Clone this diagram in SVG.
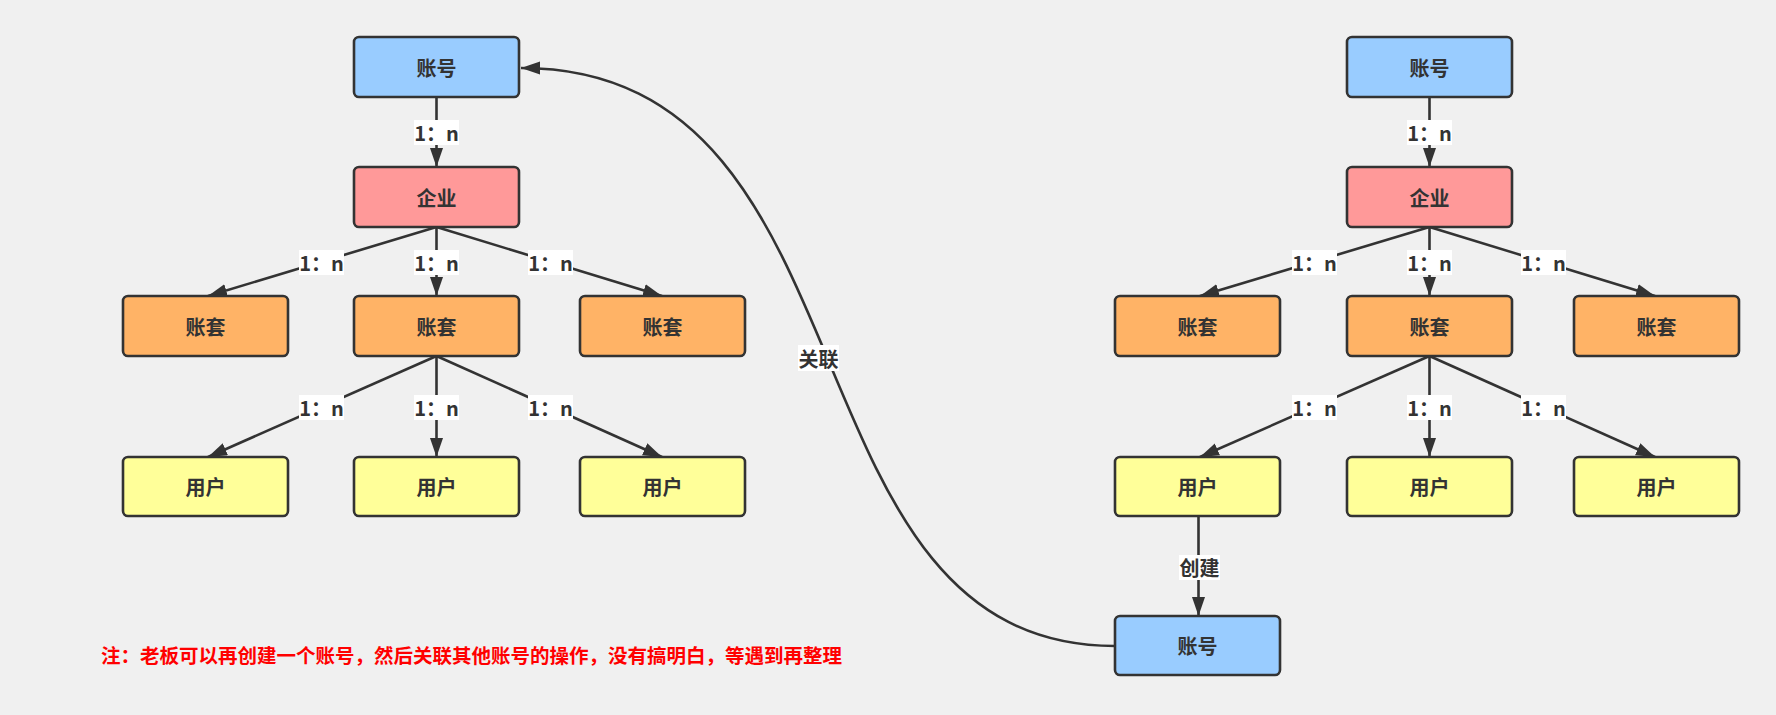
<svg xmlns="http://www.w3.org/2000/svg" width="1776" height="715" viewBox="0 0 1776 715">
<defs>
<style>
.node rect{stroke:#333;stroke-width:2.6}
.node text,.lbl text{font-family:"Noto Sans CJK SC","Liberation Sans",sans-serif;font-weight:bold;font-size:20px;fill:#333;text-anchor:middle;dominant-baseline:central}
.acct rect{fill:#99ccff}
.ent rect{fill:#ff9999}
.set rect{fill:#ffb366}
.user rect{fill:#ffff99}
.edge{fill:none;stroke:#333;stroke-width:2.6}
.lbl rect{fill:#ffffff}
.note{font-family:"Noto Sans CJK SC","Liberation Sans",sans-serif;font-weight:bold;font-size:19.5px;fill:#ff0000;dominant-baseline:central}
</style>
<marker id="arr" markerUnits="userSpaceOnUse" markerWidth="20" markerHeight="14" refX="19" refY="6.5" orient="auto">
<path d="M0,0 L19,6.5 L0,13 z" fill="#333"/>
</marker>
</defs>
<rect x="0" y="0" width="1776" height="715" fill="#f0f0f0"/>

<g id="connectors">
<path class="edge" d="M436.5,97 L436.5,167" marker-end="url(#arr)"/>
<path class="edge" d="M436.5,227 L208,296" marker-end="url(#arr)"/>
<path class="edge" d="M436.5,227 L436.5,296" marker-end="url(#arr)"/>
<path class="edge" d="M436.5,227 L662,296" marker-end="url(#arr)"/>
<path class="edge" d="M436.5,356 L208,457" marker-end="url(#arr)"/>
<path class="edge" d="M436.5,356 L436.5,457" marker-end="url(#arr)"/>
<path class="edge" d="M436.5,356 L662,457" marker-end="url(#arr)"/>

<path class="edge" d="M1429.5,97 L1429.5,167" marker-end="url(#arr)"/>
<path class="edge" d="M1429.5,227 L1200,296" marker-end="url(#arr)"/>
<path class="edge" d="M1429.5,227 L1429.5,296" marker-end="url(#arr)"/>
<path class="edge" d="M1429.5,227 L1655,296" marker-end="url(#arr)"/>
<path class="edge" d="M1429.5,356 L1200,457" marker-end="url(#arr)"/>
<path class="edge" d="M1429.5,356 L1429.5,457" marker-end="url(#arr)"/>
<path class="edge" d="M1429.5,356 L1655,457" marker-end="url(#arr)"/>
<path class="edge" d="M1198.5,516 L1198.5,616" marker-end="url(#arr)"/>

<path class="edge" d="M1115,646 C775,646 885,68 521,68" marker-end="url(#arr)"/>

<g class="lbl"><rect x="414" y="120" width="45" height="25"/><text x="436.5" y="132.5">1：n</text></g>
<g class="lbl"><rect x="299" y="250" width="45" height="25"/><text x="321.5" y="262.5">1：n</text></g>
<g class="lbl"><rect x="414" y="250" width="45" height="25"/><text x="436.5" y="262.5">1：n</text></g>
<g class="lbl"><rect x="528" y="250" width="45" height="25"/><text x="550.5" y="262.5">1：n</text></g>
<g class="lbl"><rect x="299" y="395" width="45" height="25"/><text x="321.5" y="407.5">1：n</text></g>
<g class="lbl"><rect x="414" y="395" width="45" height="25"/><text x="436.5" y="407.5">1：n</text></g>
<g class="lbl"><rect x="528" y="395" width="45" height="25"/><text x="550.5" y="407.5">1：n</text></g>

<g class="lbl"><rect x="1407" y="120" width="45" height="25"/><text x="1429.5" y="132.5">1：n</text></g>
<g class="lbl"><rect x="1292" y="250" width="45" height="25"/><text x="1314.5" y="262.5">1：n</text></g>
<g class="lbl"><rect x="1407" y="250" width="45" height="25"/><text x="1429.5" y="262.5">1：n</text></g>
<g class="lbl"><rect x="1521" y="250" width="45" height="25"/><text x="1543.5" y="262.5">1：n</text></g>
<g class="lbl"><rect x="1292" y="395" width="45" height="25"/><text x="1314.5" y="407.5">1：n</text></g>
<g class="lbl"><rect x="1407" y="395" width="45" height="25"/><text x="1429.5" y="407.5">1：n</text></g>
<g class="lbl"><rect x="1521" y="395" width="45" height="25"/><text x="1543.5" y="407.5">1：n</text></g>
<g class="lbl"><rect x="1179" y="555" width="41" height="25"/><text x="1199.5" y="567.5">创建</text></g>
<g class="lbl"><rect x="798" y="345" width="41" height="26"/><text x="818.5" y="358">关联</text></g>
</g>

<g id="n-acct-l" class="node acct"><rect x="354" y="37" width="165" height="60" rx="5"/><text x="436.5" y="67">账号</text></g>
<g id="n-ent-l" class="node ent"><rect x="354" y="167" width="165" height="60" rx="5"/><text x="436.5" y="197">企业</text></g>
<g id="n-set-l1" class="node set"><rect x="123" y="296" width="165" height="60" rx="5"/><text x="205.5" y="326">账套</text></g>
<g id="n-set-l2" class="node set"><rect x="354" y="296" width="165" height="60" rx="5"/><text x="436.5" y="326">账套</text></g>
<g id="n-set-l3" class="node set"><rect x="580" y="296" width="165" height="60" rx="5"/><text x="662.5" y="326">账套</text></g>
<g id="n-user-l1" class="node user"><rect x="123" y="457" width="165" height="59" rx="5"/><text x="205.5" y="486.5">用户</text></g>
<g id="n-user-l2" class="node user"><rect x="354" y="457" width="165" height="59" rx="5"/><text x="436.5" y="486.5">用户</text></g>
<g id="n-user-l3" class="node user"><rect x="580" y="457" width="165" height="59" rx="5"/><text x="662.5" y="486.5">用户</text></g>

<g id="n-acct-r" class="node acct"><rect x="1347" y="37" width="165" height="60" rx="5"/><text x="1429.5" y="67">账号</text></g>
<g id="n-ent-r" class="node ent"><rect x="1347" y="167" width="165" height="60" rx="5"/><text x="1429.5" y="197">企业</text></g>
<g id="n-set-r1" class="node set"><rect x="1115" y="296" width="165" height="60" rx="5"/><text x="1197.5" y="326">账套</text></g>
<g id="n-set-r2" class="node set"><rect x="1347" y="296" width="165" height="60" rx="5"/><text x="1429.5" y="326">账套</text></g>
<g id="n-set-r3" class="node set"><rect x="1574" y="296" width="165" height="60" rx="5"/><text x="1656.5" y="326">账套</text></g>
<g id="n-user-r1" class="node user"><rect x="1115" y="457" width="165" height="59" rx="5"/><text x="1197.5" y="486.5">用户</text></g>
<g id="n-user-r2" class="node user"><rect x="1347" y="457" width="165" height="59" rx="5"/><text x="1429.5" y="486.5">用户</text></g>
<g id="n-user-r3" class="node user"><rect x="1574" y="457" width="165" height="59" rx="5"/><text x="1656.5" y="486.5">用户</text></g>
<g id="n-acct-new" class="node acct"><rect x="1115" y="616" width="165" height="59" rx="5"/><text x="1197.5" y="645.5">账号</text></g>

<g id="note"><text class="note" x="101" y="654">注：老板可以再创建一个账号，然后关联其他账号的操作，没有搞明白，等遇到再整理</text></g>
</svg>
